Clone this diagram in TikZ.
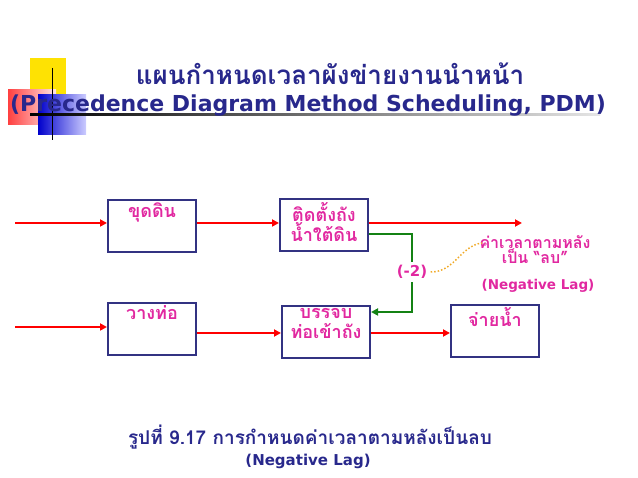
\documentclass[tikz,border=0pt]{standalone}
\usepackage{fontspec}
\setmainfont{DejaVu Sans}
\newfontfamily\thai[Script=Thai]{Loma}
\usetikzlibrary{arrows.meta}
\definecolor{ttl}{RGB}{40,40,140}
\definecolor{pnk}{RGB}{225,40,160}
\definecolor{bx}{RGB}{50,50,130}
\definecolor{grn}{RGB}{20,130,20}
\definecolor{orn}{RGB}{240,170,40}
\tikzset{
 box/.style={draw=bx,line width=2pt,minimum width=88pt,minimum height=52pt,inner sep=0pt},
 lbl/.style={text=pnk,font=\thai\bfseries\fontsize{18}{20}\selectfont,align=center},
 redar/.style={draw=red,line width=2.5pt,-{Triangle[length=7pt,width=7pt]}},
 grnar/.style={draw=grn,line width=2.5pt,-{Triangle[length=7pt,width=7pt]}},
}
\begin{document}
\begin{tikzpicture}[x=1pt,y=-1pt]
\useasboundingbox (0,0) rectangle (638,478);
% decoration
\fill[yellow!85!orange] (30,58) rectangle (66,95);
\shade[left color=red!75,right color=red!10] (8,90) rectangle (56,125);
\shade[left color=blue!80!black,right color=blue!20] (38,95) rectangle (86,135);
\draw[line width=1pt] (52,68) -- (52,140);
\shade[left color=black,right color=gray!20] (30,114) rectangle (600,116);
% title
\node[text=ttl,font=\thai\bfseries\fontsize{26}{30}\selectfont] (t1) at (330,74) {แผนกำหนดเวลาผังข่ายงานนำหน้า};
\node[text=ttl,font=\bfseries\fontsize{22}{24}\selectfont] (t2) at (308,106) {(Precedence Diagram Method Scheduling, PDM)};
% boxes
\node[box] (a) at (152,226) {};
\node[lbl,anchor=north] at (a.north) {ขุดดิน};
\node[box] (b) at (324,225) {};
\node[lbl,anchor=north] at (a.north -| b) {ติดตั้งถัง\\น้ำใต้ดิน};
\node[box] (c) at (152,329) {};
\node[lbl,anchor=north] at (c.north) {วางท่อ};
\node[box] (d) at (326,332) {};
\node[lbl,anchor=north] at (d.north) {บรรจบ\\ท่อเข้าถัง};
\node[box] (e) at (495,331) {};
\node[lbl,anchor=north] at (e.north) {จ่ายน้ำ};
% connectors
\coordinate (s1) at (15,223); \coordinate (s2) at (15,327); \coordinate (f1) at (522,223);
\draw[redar] (s1) -- (s1 -| a.west);
\draw[redar] (a.east |- 0,223) -- (b.west |- 0,223);
\draw[redar] (b.east |- 0,223) -- (f1);
\draw[redar] (s2) -- (s2 -| c.west);
\draw[redar] (c.east |- 0,333) -- (d.west |- 0,333);
\draw[redar] (d.east |- 0,333) -- (e.west |- 0,333);
\node[text=pnk,font=\bfseries\fontsize{15}{17}\selectfont] (lag) at (412,272) {(-2)};
\draw[draw=grn,line width=2.5pt] (b.east |- 0,234) -- (412,234) -- (lag.north);
\draw[grnar] (lag.south) -- (412,312) -- (d.east |- 0,312);
\node[lbl,font=\thai\bfseries\fontsize{16}{15}\selectfont] (nt) at (535,250) {ค่าเวลาตามหลัง\\เป็น “ลบ”};
\node[text=pnk,font=\bfseries\fontsize{13.5}{15}\selectfont] (nl) at (538,286) {(Negative Lag)};
\draw[orn,line width=1.5pt,dotted] (lag.east) .. controls (455,272) and (460,246) .. (482,243);
% caption
\node[text=ttl,font=\thai\bfseries\fontsize{19}{21}\selectfont] (cap1) at (310,437) {รูปที่ 9.17 การกำหนดค่าเวลาตามหลังเป็นลบ};
\node[text=ttl,font=\bfseries\fontsize{15}{17}\selectfont] (cap2) at (308,461) {(Negative Lag)};
\end{tikzpicture}
\end{document}
